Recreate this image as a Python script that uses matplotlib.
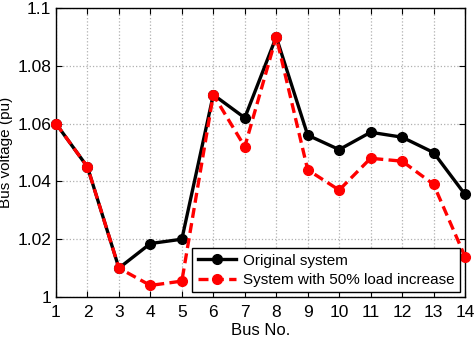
import matplotlib
matplotlib.use("Agg")
import matplotlib.pyplot as plt

plt.rcParams['font.family'] = ['Liberation Sans', 'DejaVu Sans']

bus = list(range(1, 15))
original = [1.060, 1.045, 1.010, 1.0185, 1.020, 1.070, 1.062, 1.090,
            1.056, 1.051, 1.057, 1.0553, 1.050, 1.0355]
load_up = [1.060, 1.045, 1.010, 1.004, 1.0055, 1.070, 1.052, 1.090,
           1.044, 1.037, 1.048, 1.047, 1.039, 1.014]

fig = plt.figure(figsize=(4.74, 3.37), dpi=100)
ax = fig.add_axes([56 / 474, 40 / 337, 409 / 474, 289 / 337])

ax.plot(bus, original, color='black', linewidth=2.4, marker='o', markersize=7,
        label='Original system', clip_on=False, zorder=3)
ax.plot(bus, load_up, color='red', linewidth=2.4, linestyle='--', dashes=(3, 1.6),
        marker='o', markersize=7, label='System with 50% load increase',
        clip_on=False, zorder=4)

ax.set_xlim(1, 14)
ax.set_ylim(1.0, 1.1)
ax.set_xticks(bus)
ax.set_yticks([1.0, 1.02, 1.04, 1.06, 1.08, 1.1])
ax.set_yticklabels(['1', '1.02', '1.04', '1.06', '1.08', '1.1'])
ax.tick_params(direction='in', labelsize=12.5, length=4, top=True, right=True)
ax.tick_params(axis='x', pad=6)
ax.grid(True, linestyle=':', color='#b0b0b0', linewidth=0.9)
for s in ax.spines.values():
    s.set_linewidth(1)

ax.set_xlabel('Bus No.', fontsize=12, labelpad=2)
ax.set_ylabel('Bus voltage (pu)', fontsize=11)
ax.yaxis.set_label_coords(-0.105, 0.5)

leg = ax.legend(loc='lower right', fontsize=11, fancybox=False, edgecolor='black',
                framealpha=1, borderaxespad=0.3, handlelength=2.5,
                labelspacing=0.35, borderpad=0.35, handletextpad=0.5)
leg.get_frame().set_linewidth(1)

fig.savefig('out.png', dpi=100)
